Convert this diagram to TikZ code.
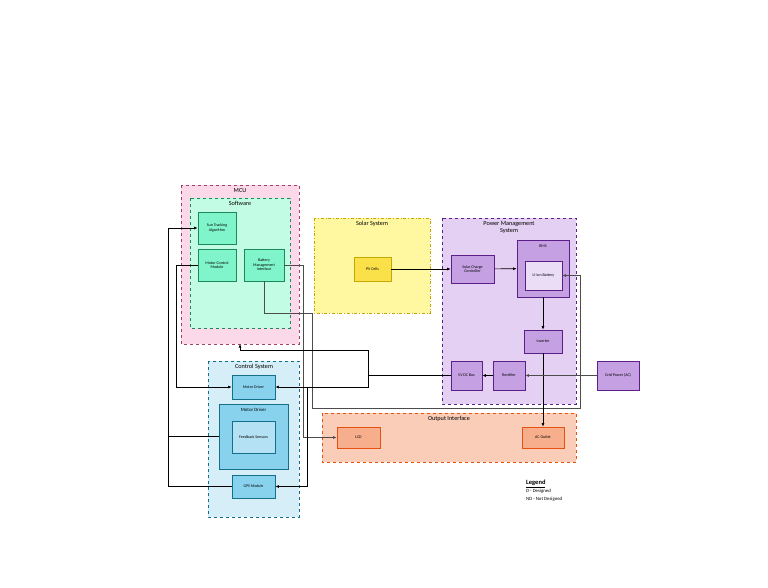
\documentclass[tikz,border=0pt]{standalone}
\usepackage{fontspec}
\setmainfont{Carlito}
\usetikzlibrary{arrows.meta}
\begin{document}
\begin{tikzpicture}[x=1pt,y=-1pt,
 grp/.style={draw,dashed,line width=0.5pt},
 bx/.style={draw,line width=0.6pt,align=center,font=\fontsize{4}{4.6}\selectfont},
 ttl/.style={font=\fontsize{6.2}{6.7}\selectfont,align=center,anchor=north},
 ar/.style={-{Latex[length=3.5pt,width=2.8pt]},line width=0.6pt},
 ln/.style={line width=0.6pt}]
\useasboundingbox (0,0) rectangle (768,588);
\definecolor{pk}{HTML}{FCD9E8}\definecolor{pkd}{HTML}{A0406A}
\definecolor{mn}{HTML}{C2FCE4}\definecolor{mnd}{HTML}{1B8A5A}\definecolor{mnb}{HTML}{80F5CC}
\definecolor{yl}{HTML}{FFF8A0}\definecolor{yld}{HTML}{C8A800}\definecolor{ylb}{HTML}{FAE14A}
\definecolor{pu}{HTML}{E4D0F2}\definecolor{pud}{HTML}{5C1F8A}\definecolor{pub}{HTML}{C5A0E2}\definecolor{pul}{HTML}{EBDDF6}
\definecolor{bl}{HTML}{D6EEF8}\definecolor{bld}{HTML}{14708A}\definecolor{blb}{HTML}{88D2EE}\definecolor{bll}{HTML}{B4E2F4}
\definecolor{or}{HTML}{F9CDB8}\definecolor{ord}{HTML}{E85010}\definecolor{orb}{HTML}{F7AE8C}
% groups
\draw[grp,fill=pk,draw=pkd] (181,185) rectangle (299,344);
\node[ttl] (tmcu) at (240,185) {MCU};
\draw[grp,fill=mn,draw=mnd] (190,198) rectangle (290,328);
\node[ttl] (tsw) at (240,198) {Software};
\draw[grp,fill=yl,draw=yld,dash dot] (314,218) rectangle (430,313);
\node[ttl] (tsol) at (372,218) {Solar System};
\draw[grp,fill=pu,draw=pud] (442,218) rectangle (576,404);
\node[ttl] (tpms) at (509,218) {Power Management\\System};
\draw[grp,fill=bl,draw=bld] (208,361) rectangle (299,517);
\node[ttl] (tcs) at (254,361) {Control System};
\draw[grp,fill=or,draw=ord] (322,413) rectangle (576,462);
\node[ttl] (tout) at (449,413) {Output Interface};
\coordinate (mcub) at (240,344);
% nodes
\node[bx,fill=mnb,draw=mnd,minimum width=38pt,minimum height=32pt] (sun) at (217,228) {Sun Tracking\\Algorithm};
\node[bx,fill=mnb,draw=mnd,minimum width=38pt,minimum height=32pt] (mcm) at (217,265) {Motor Control\\Module};
\node[bx,fill=mnb,draw=mnd,minimum width=40pt,minimum height=32pt] (bmi) at (264,265) {Battery\\Management\\Interface};
\node[bx,fill=ylb,draw=yld,minimum width=37pt,minimum height=24pt] (pv) at (372.5,269) {PV Cells};
\node[bx,fill=pub,draw=pud,minimum width=43pt,minimum height=28pt] (scc) at (472.5,269) {Solar Charge\\Controller};
\node[bx,fill=pub,draw=pud,minimum width=52pt,minimum height=57pt] (bms) at (543,268.5) {};
\node[font=\fontsize{4}{4.6}\selectfont,anchor=north] (tbms) at (543,241) {BMS};
\node[bx,fill=pul,draw=pud,minimum width=37pt,minimum height=29pt] (li) at (543.5,275.5) {Li-ion Battery};
\node[bx,fill=pub,draw=pud,minimum width=38pt,minimum height=23pt] (inv) at (543,341.5) {Inverter};
\node[bx,fill=pub,draw=pud,minimum width=31pt,minimum height=29pt] (dc) at (466.5,375.5) {5V DC Bus};
\node[bx,fill=pub,draw=pud,minimum width=32pt,minimum height=29pt] (rec) at (509,375.5) {Rectifier};
\node[bx,fill=pub,draw=pud,minimum width=42pt,minimum height=29pt] (grid) at (618,375.5) {Grid Power (AC)};
\node[bx,fill=blb,draw=bld,minimum width=43pt,minimum height=24pt] (md) at (253.5,387) {Motor Driver};
\node[bx,fill=blb,draw=bld,minimum width=69pt,minimum height=65pt] (mdb) at (253.5,436.5) {};
\node[font=\fontsize{4.8}{5.3}\selectfont,anchor=north] (tmdb) at (253.5,405) {Motor Driver};
\node[bx,fill=bll,draw=bld,minimum width=43pt,minimum height=32pt] (fs) at (253.5,437) {Feedback Sensors};
\node[bx,fill=blb,draw=bld,minimum width=43pt,minimum height=23pt] (gps) at (253.5,486.5) {GPS Module};
\node[bx,fill=orb,draw=ord,minimum width=43pt,minimum height=21pt] (lcd) at (358.5,437.5) {LCD};
\node[bx,fill=orb,draw=ord,minimum width=42pt,minimum height=21pt] (aco) at (543,437.5) {AC Outlet};
% legend
\node[anchor=north west,inner sep=1pt,font=\fontsize{6.5}{7}\selectfont\bfseries] (leg) at (525,479) {\underline{Legend}};
\node[anchor=north west,inner sep=1pt,font=\fontsize{4.8}{8}\selectfont,align=left] (legt) at (525,488) {D - Designed\\ND - Not Designed};
% connectors
\draw[ar,line width=1pt] (mdb.west) -- (168,436.5) |- (sun.west);
\draw[ln] (gps.west) -| (168,436.5);
\draw[ar] (mcm.west) -- (176,265) |- (md.west);
\draw[ar,draw=black!70] (bmi.east) -- (303,265) |- (lcd.west);
\draw[ar,draw=black!70] (bmi.south) |- (312,313) |- (580,408) |- (li.east);
\draw[ar] (dc.west) -- (368,375.5) |- (240,350) -- (mcub);
\draw[ar] (368,375.5) |- (md.east);
\draw[ar] (307,387) |- (gps.east);
\draw[ar] (pv) -- (scc);
\draw[ar] (scc) -- (bms);
\draw[ar] (bms) -- (inv);
\draw[ar] (inv) -- (aco);
\draw[ar,draw=black!70] (grid) -- (rec);
\draw[ar] (rec) -- (dc);
\end{tikzpicture}
\end{document}
